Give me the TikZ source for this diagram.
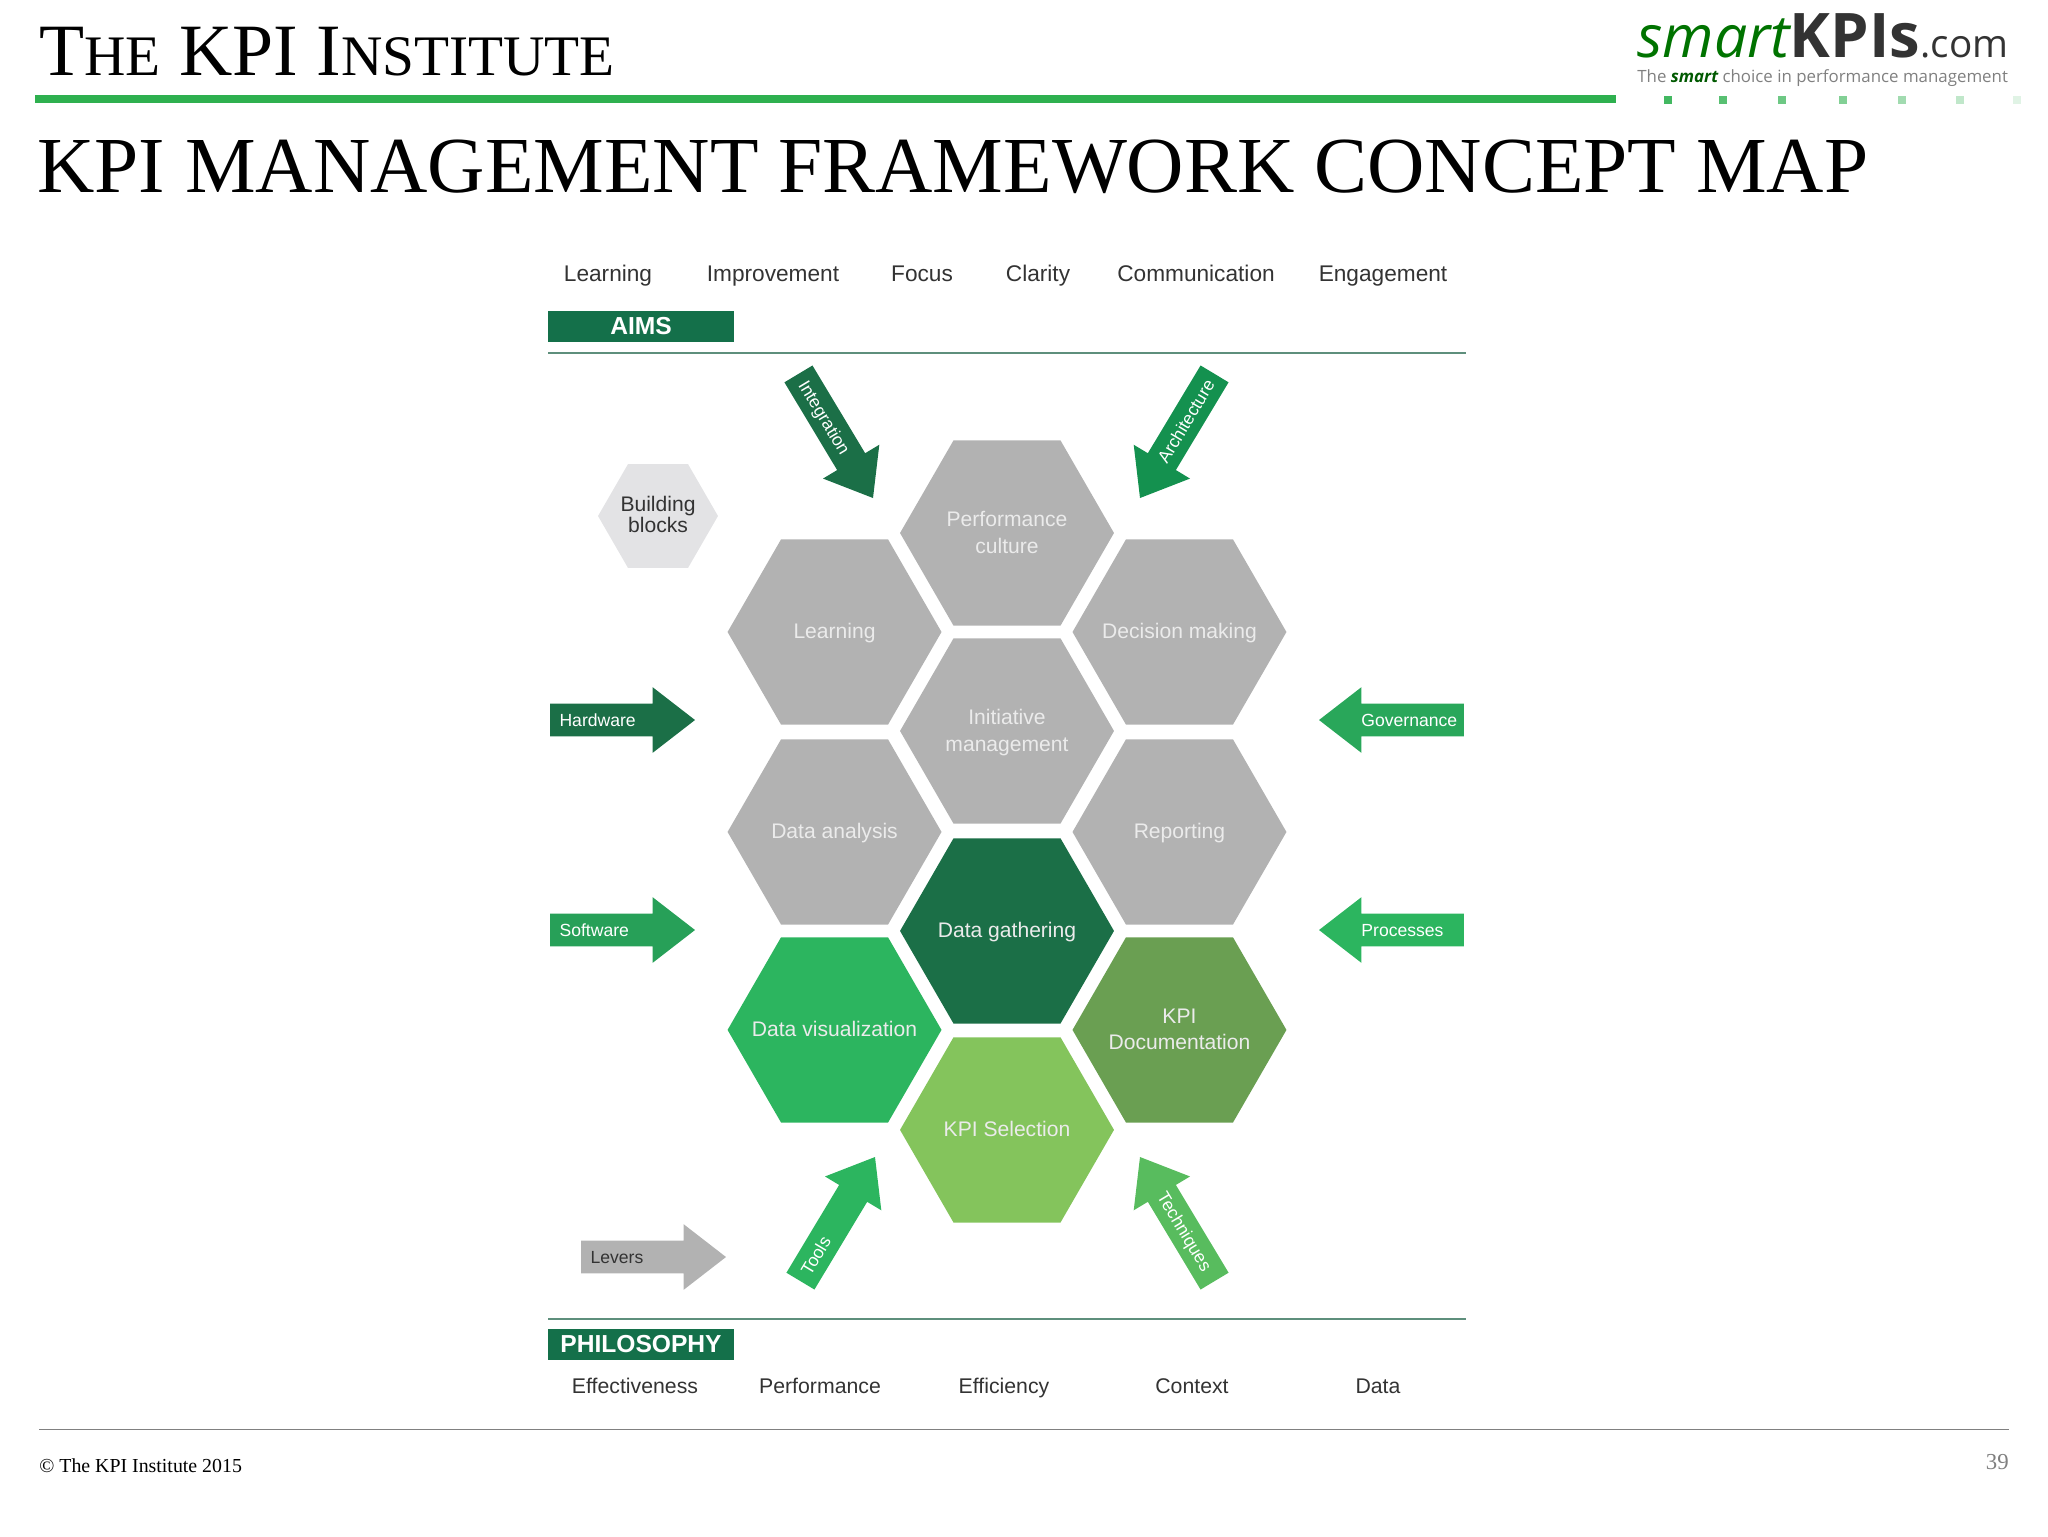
\documentclass[tikz,border=0pt]{standalone}
\usepackage{xcolor}
\usepackage{fontspec}
\setmainfont{Liberation Serif}
\setsansfont{Liberation Sans}
\newfontfamily\logofont{Open Sans}
\usepackage{tikz}
\usetikzlibrary{shapes,arrows,positioning}
\definecolor{barGreen}{HTML}{2EB04F}
\definecolor{sectionGreen}{HTML}{14704A}
\definecolor{ruleGreen}{HTML}{5E8F7C}
\definecolor{hexGrey}{HTML}{B2B2B2}
\definecolor{hexPale}{HTML}{E3E3E5}
\definecolor{hexDark}{HTML}{1B6F47}
\definecolor{hexBright}{HTML}{2CB55F}
\definecolor{hexOlive}{HTML}{6A9F52}
\definecolor{hexLime}{HTML}{84C45C}
\definecolor{arrowMid}{HTML}{14914F}
\definecolor{labelDark}{HTML}{333333}
\newcommand{\instsmall}[1]{{\fontsize{32.6}{32.6}\selectfont #1}}
\newcommand{\hexlabel}[1]{\makebox[0pt]{\raisebox{-3.9pt}[0pt][0pt]{\begin{tabular}{@{}c@{}}#1\end{tabular}}}}
\tikzstyle{hex} = [regular polygon, regular polygon sides=6,
    minimum size=4.28cm, inner sep=0pt, outer sep=0pt, text=white!92!black,
    font=\sffamily\fontsize{12}{15}\selectfont]
\tikzstyle{hexsmall} = [hex, minimum size=2.4cm, fill=hexPale, text=labelDark,
    font=\sffamily\fontsize{12}{12}\selectfont]
\tikzstyle{blockarrow} = [single arrow, single arrow tip angle=75.5, single arrow head extend=0.33cm,
    anchor=tip, inner xsep=0.18cm, inner ysep=0pt, outer sep=0pt, text width=2.1cm, align=left,
    text height=0.445cm, text depth=0.195cm, text=white, font=\sffamily\fontsize{10}{10}\selectfont]
\tikzstyle{blockarrowback} = [blockarrow, shape border rotate=180,
    execute at begin node={\hyphenpenalty=10000\hbadness=10000\hfuzz=1cm\hspace*{0.24cm}}]
\tikzstyle{aimlabel} = [anchor=base, font=\sffamily\fontsize{12.9}{13}\selectfont, text=labelDark]
\tikzstyle{philolabel} = [anchor=base, font=\sffamily\fontsize{12.1}{13}\selectfont, text=labelDark]
\tikzstyle{section} = [rectangle, fill=sectionGreen, text=white, inner sep=0pt, minimum height=0.62cm,
    minimum width=3.71cm, font=\sffamily\bfseries\fontsize{14}{14}\selectfont]
\tikzstyle{rulegreen} = [draw=ruleGreen, line width=1.2pt]
\tikzstyle{logodot} = [rectangle, minimum size=0.15cm, inner sep=0pt]

\begin{document}
\begin{tikzpicture}[x=0.02cm, y=-0.02cm, on grid]
      \useasboundingbox (0,0) rectangle (2048,1536);
      % Header
      \node [anchor=base west, inner sep=0pt, font=\fontsize{42}{42}\selectfont] (institute) at (39,75)
          {T\instsmall{HE} KPI I\instsmall{NSTITUTE}};
      \node [anchor=base west, inner sep=0pt, font=\fontsize{45.2}{46}\selectfont] (title) at (37,192)
          {KPI MANAGEMENT FRAMEWORK CONCEPT MAP};
      \coordinate (bar-start) at (35,99);
      \coordinate (bar-end) at (1616,99);
      \draw [barGreen, line width=0.16cm] (bar-start) -- (bar-end);
      % Logo
      \node [anchor=base west, inner sep=0pt, font=\logofont\fontsize{33.5}{34}\selectfont, text=labelDark] (logo) at (1637,57)
          {\textcolor{green!45!black}{\itshape smart}{\fontsize{35}{35}\selectfont\bfseries KPIs}\fontsize{22}{22}\selectfont.com};
      \node [anchor=base west, inner sep=0pt, font=\logofont\fontsize{9.6}{10}\selectfont, text=gray] (tagline) at (1637,82)
          {The \textcolor{green!35!black}{\bfseries\itshape smart} choice in performance management};
      \node [logodot, fill=barGreen!90] (dot-a) at (1668,100) {};
      \node [logodot, fill=barGreen!80] (dot-b) at (1723,100) {};
      \node [logodot, fill=barGreen!70] (dot-c) at (1782,100) {};
      \node [logodot, fill=barGreen!60] (dot-d) at (1843,100) {};
      \node [logodot, fill=barGreen!45] (dot-e) at (1902,100) {};
      \node [logodot, fill=barGreen!30] (dot-f) at (1960,100) {};
      \node [logodot, fill=barGreen!15] (dot-g) at (2017,100) {};
      % Aims
      \node [aimlabel] (aim-learning) at (608,281) {Learning};
      \node [aimlabel] (aim-improvement) at (773,281) {Improvement};
      \node [aimlabel] (aim-focus) at (922,281) {Focus};
      \node [aimlabel] (aim-clarity) at (1038,281) {Clarity};
      \node [aimlabel] (aim-communication) at (1196,281) {Communication};
      \node [aimlabel] (aim-engagement) at (1383,281) {Engagement};
      \node [section] (aims) at (641,326) {AIMS};
      \coordinate (aims-rule-start) at (548,353);
      \coordinate (aims-rule-end) at (1466,353);
      \draw [rulegreen] (aims-rule-start) -- (aims-rule-end);
      % Hexagons
      \node [hex, fill=hexGrey] (culture) at (1007,533) {\hexlabel{Performance\\culture}};
      \node [hex, fill=hexGrey, below left=1.98cm and 3.45cm of culture] (learning) {\hexlabel{Learning}};
      \node [hex, fill=hexGrey, below right=1.98cm and 3.45cm of culture] (decision) {\hexlabel{Decision making}};
      \node [hex, fill=hexGrey, below=3.96cm of culture] (initiative) {\hexlabel{Initiative\\management}};
      \node [hex, fill=hexGrey, below=4cm of learning] (analysis) {\hexlabel{Data analysis}};
      \node [hex, fill=hexGrey, below=4cm of decision] (reporting) {\hexlabel{Reporting}};
      \node [hex, fill=hexDark, below=4cm of initiative] (gathering) {\hexlabel{Data gathering}};
      \node [hex, fill=hexBright, below=3.96cm of analysis] (visualization) {\hexlabel{Data visualization}};
      \node [hex, fill=hexOlive, below=3.96cm of reporting] (documentation) {\hexlabel{KPI\\Documentation}};
      \node [hex, fill=hexLime, below=3.98cm of gathering] (selection) {\hexlabel{KPI Selection}};
      \node [hexsmall] (blocks) at (658,516) {\hexlabel{Building\\blocks}};
      % Arrows
      \node [blockarrow, fill=hexDark, rotate=-59] (integration) at (873,498) {Integration};
      \node [blockarrowback, fill=arrowMid, rotate=59] (architecture) at (1140,498) {Architecture};
      \node [blockarrow, fill=hexDark] (hardware) at (695,720) {Hardware};
      \node [blockarrowback, fill=hexBright!80!hexDark] (governance) at (1319,720) {Governance};
      \node [blockarrow, fill=hexBright!70!hexDark] (software) at (695,930) {Software};
      \node [blockarrowback, fill=hexBright] (processes) at (1319,930) {Processes};
      \node [blockarrow, fill=hexBright, rotate=59] (tools) at (875,1157) {Tools};
      \node [blockarrowback, fill=hexBright!50!hexLime, rotate=-59] (techniques) at (1140,1157) {Techniques};
      \node [blockarrow, fill=hexGrey, text=labelDark] (levers) at (726,1257) {Levers};
      % Philosophy
      \coordinate (philo-rule-start) at (548,1319);
      \coordinate (philo-rule-end) at (1466,1319);
      \draw [rulegreen] (philo-rule-start) -- (philo-rule-end);
      \node [section] (philosophy) at (641,1344) {PHILOSOPHY};
      \node [philolabel] (philo-effectiveness) at (635,1393) {Effectiveness};
      \node [philolabel] (philo-performance) at (820,1393) {Performance};
      \node [philolabel] (philo-efficiency) at (1004,1393) {Efficiency};
      \node [philolabel] (philo-context) at (1192,1393) {Context};
      \node [philolabel] (philo-data) at (1378,1393) {Data};
      % Footer
      \coordinate (foot-rule-start) at (39,1429);
      \coordinate (foot-rule-end) at (2009,1429);
      \draw [gray, line width=0.6pt] (foot-rule-start) -- (foot-rule-end);
      \node [anchor=west, inner sep=0pt, font=\fontsize{11.3}{11}\selectfont] (copyright) at (39,1466) {© The KPI Institute 2015};
      \node [anchor=east, inner sep=0pt, text=gray, font=\fontsize{13}{13}\selectfont] (pagenum) at (2009,1462) {39};
  \end{tikzpicture}
\end{document}
